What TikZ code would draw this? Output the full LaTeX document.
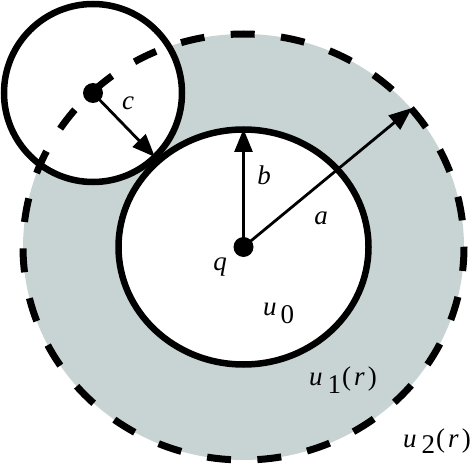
\documentclass[tikz,border=0pt]{standalone}
\usepackage{fontspec}
\setmainfont{Liberation Serif}
\usetikzlibrary{arrows.meta}
\definecolor{ringfill}{RGB}{200,212,212}
\begin{document}
\begin{tikzpicture}[x=1pt,y=-1pt,
  solidring/.style={line width=6.5pt},
  dashring/.style={line width=7pt, dash pattern=on 24pt off 26.44pt},
  radiusarrow/.style={line width=2.8pt, -{Triangle[length=23pt,width=18pt]}},
  dotmark/.style={fill=black},
  lbl/.style={font=\fontsize{27pt}{29pt}\selectfont\itshape, inner sep=0pt, anchor=base},
  ulbl/.style={font=\fontsize{27pt}{29pt}\selectfont, inner sep=0pt, anchor=base west}]
\useasboundingbox (0,0) rectangle (474,465);
\coordinate (q) at (243.5,247);
\coordinate (p) at (93,93);
\coordinate (atip) at (412,108);
\coordinate (btip) at (243.5,129);
\coordinate (ctip) at (155,157);
% regions
\fill[ringfill] (q) ellipse [x radius=220.5, y radius=213];
\fill[white] (p) circle [radius=89];
\fill[white] (q) ellipse [x radius=125, y radius=117.5];
% outlines
\draw[dashring] (q) ellipse [x radius=220.5, y radius=213];
\draw[solidring] (p) circle [radius=89];
\draw[solidring] (q) ellipse [x radius=125, y radius=117.5];
% radii
\draw[radiusarrow] (q) -- (atip);
\draw[radiusarrow] (q) -- (btip);
\draw[radiusarrow] (p) -- (ctip);
% dots
\fill[dotmark] (q) circle [radius=10];
\fill[dotmark] (p) circle [radius=10];
% labels
\node[lbl] (lc) at (128,110) {c};
\node[lbl] (lb) at (264,185) {b};
\node[lbl] (la) at (321,225) {a};
\node[lbl] (lq) at (220,271) {q};
\node[ulbl] (u0) at (263,315) {\textit{u}\hspace{4pt}\raisebox{-9pt}{0}};
\node[ulbl] (u1) at (309,385) {\textit{u}\hspace{5pt}\raisebox{-8pt}{1}\hspace{1pt}(\hspace{3pt}\textit{r}\hspace{3pt})};
\node[ulbl] (u2) at (403,447) {\textit{u}\hspace{5pt}\raisebox{-6pt}{2}\hspace{1pt}(\hspace{3pt}\textit{r}\hspace{3pt})};
\end{tikzpicture}
\end{document}
